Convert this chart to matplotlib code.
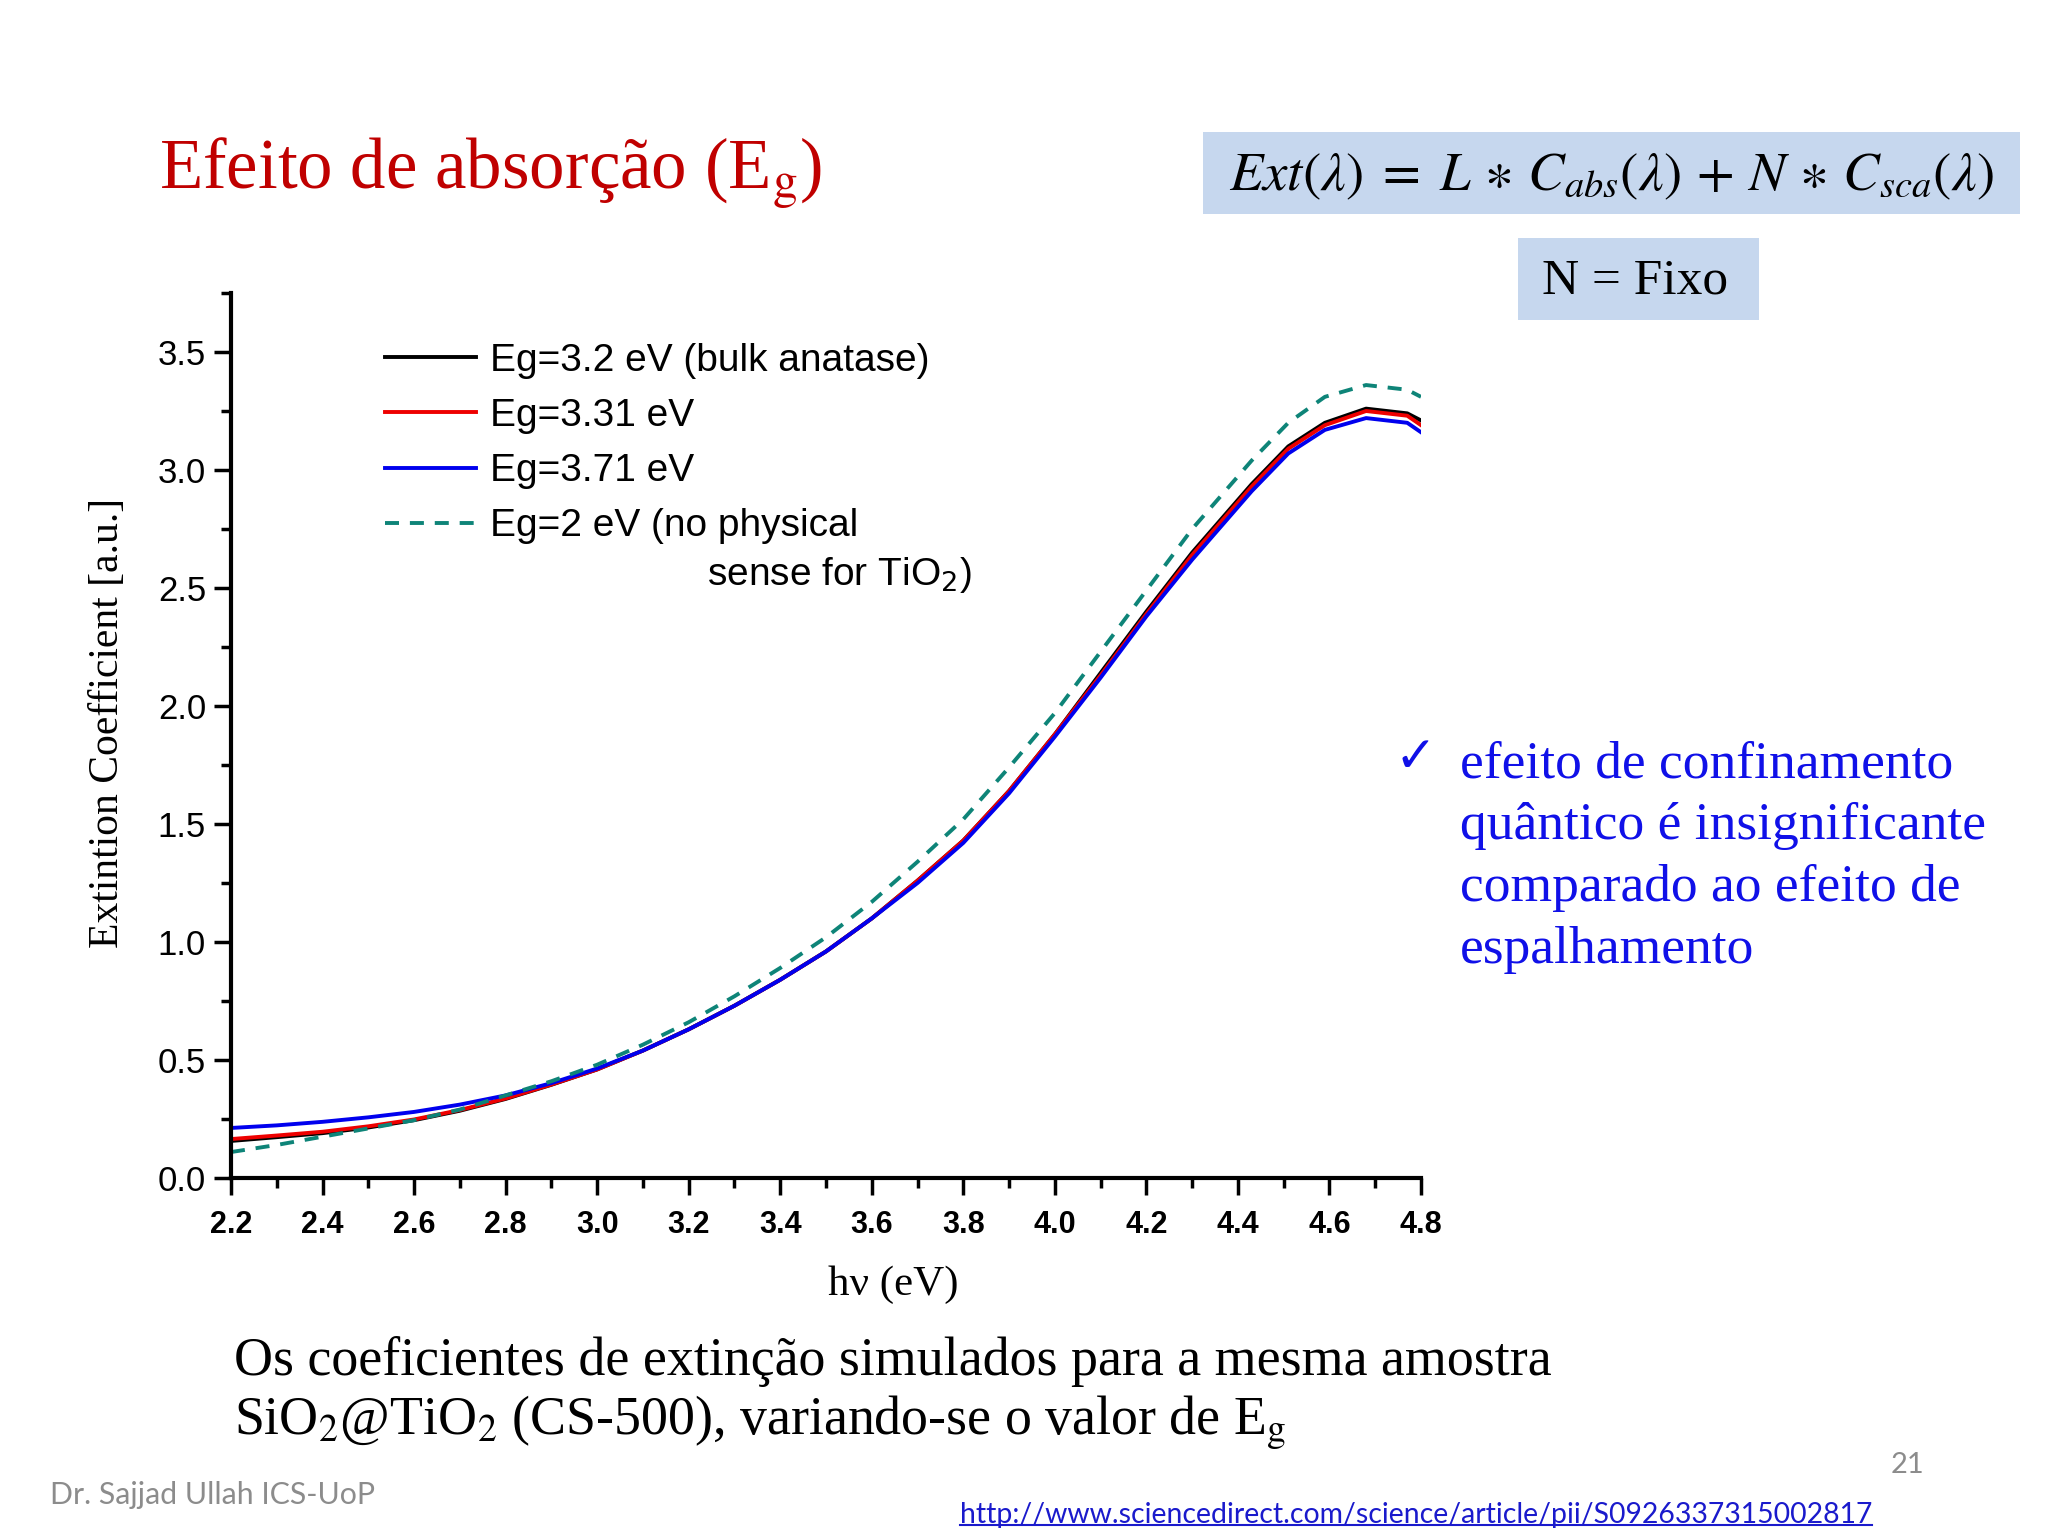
import numpy as np
import matplotlib
matplotlib.use("Agg")
import matplotlib.pyplot as plt
from matplotlib.patches import Rectangle
from matplotlib.lines import Line2D
from matplotlib.ticker import MultipleLocator

# photon energy (eV)
hv = [2.2, 2.3, 2.4, 2.5, 2.6, 2.7, 2.8, 2.9, 3.0, 3.1, 3.2, 3.3, 3.4, 3.5,
      3.6, 3.7, 3.8, 3.9, 4.0, 4.1, 4.2, 4.3, 4.43, 4.51, 4.59, 4.68, 4.77, 4.80]

# extinction coefficient for each band gap
ext_eg320 = [0.157, 0.173, 0.19, 0.214, 0.245, 0.285, 0.335, 0.395, 0.46, 0.54,
             0.63, 0.73, 0.84, 0.96, 1.10, 1.26, 1.43, 1.64, 1.88, 2.14, 2.40,
             2.65, 2.94, 3.10, 3.20, 3.26, 3.24, 3.21]
ext_eg331 = [0.165, 0.18, 0.196, 0.219, 0.248, 0.288, 0.337, 0.396, 0.46, 0.54,
             0.63, 0.73, 0.84, 0.96, 1.10, 1.26, 1.43, 1.64, 1.88, 2.13, 2.39,
             2.64, 2.93, 3.09, 3.19, 3.25, 3.23, 3.19]
ext_eg371 = [0.212, 0.223, 0.238, 0.257, 0.280, 0.311, 0.350, 0.402, 0.464, 0.54,
             0.63, 0.73, 0.84, 0.96, 1.10, 1.25, 1.42, 1.63, 1.87, 2.12, 2.38,
             2.62, 2.91, 3.07, 3.17, 3.22, 3.20, 3.16]
ext_eg200 = [0.11, 0.14, 0.175, 0.21, 0.245, 0.29, 0.35, 0.41, 0.48, 0.565,
             0.66, 0.77, 0.89, 1.02, 1.17, 1.34, 1.52, 1.74, 1.97, 2.23, 2.49,
             2.75, 3.04, 3.20, 3.31, 3.36, 3.34, 3.31]

labels = ["Eg=3.2 eV (bulk anatase)", "Eg=3.31 eV", "Eg=3.71 eV",
          "Eg=2 eV (no physical"]

bullet_lines = ["efeito de confinamento", "quântico é insignificante",
                "comparado ao efeito de", "espalhamento"]

W, H = 2048, 1536
fig = plt.figure(figsize=(20.48, 15.36), dpi=100)
fig.patch.set_facecolor("white")

def fx(px):
    return px / W

def fy(py):
    return 1 - py / H

ax = fig.add_axes([fx(231), fy(1178), (1421 - 231) / W, (1178 - 293) / H])

lw = 2.8
ax.plot(hv, ext_eg320, color="black", lw=lw, label=labels[0])
ax.plot(hv, ext_eg331, color="#EE0000", lw=lw, label=labels[1])
ax.plot(hv, ext_eg371, color="#0000EE", lw=lw, label=labels[2])
ax.plot(hv, ext_eg200, color="#0E8478", lw=lw, ls=(0, (3.6, 2.8)), label=labels[3])

ax.set_xlim(2.2, 4.8)
ax.set_ylim(0, 3.75)
ax.xaxis.set_major_locator(MultipleLocator(0.2))
ax.xaxis.set_minor_locator(MultipleLocator(0.1))
ax.yaxis.set_major_locator(MultipleLocator(0.5))
ax.yaxis.set_minor_locator(MultipleLocator(0.25))
ax.set_xticks(np.arange(2.2, 4.81, 0.2))
ax.set_xticklabels(["%.1f" % v for v in np.arange(2.2, 4.81, 0.2)])

for s in ["top", "right"]:
    ax.spines[s].set_visible(False)
for s in ["left", "bottom"]:
    ax.spines[s].set_linewidth(3)

ax.tick_params(axis="both", which="major", direction="out", length=12, width=2.5)
ax.tick_params(axis="both", which="minor", direction="out", length=7, width=2.5)
ax.tick_params(axis="x", pad=11)
ax.tick_params(axis="y", pad=6)
for t in ax.get_xticklabels():
    t.set_fontfamily("Liberation Sans")
    t.set_fontweight("bold")
    t.set_fontsize(22)
for t in ax.get_yticklabels():
    t.set_fontfamily("Liberation Sans")
    t.set_fontsize(25)

leg = ax.legend(loc="upper left", bbox_to_anchor=(fx(385), fy(343)),
                bbox_transform=fig.transFigure, frameon=False,
                prop={"family": "Liberation Sans", "size": 28},
                handlelength=2.35, handletextpad=0.35, labelspacing=0.49,
                borderpad=0, borderaxespad=0)
fig.text(fx(707), fy(575), "sense for TiO$_2$)", fontsize=28,
         family="Liberation Sans", math_fontfamily="dejavusans",
         ha="left", va="center")

# axis labels
fig.text(fx(108), fy(723), "Extintion Coefficient [a.u.]", rotation=90,
         family="Liberation Serif", fontsize=30, ha="center", va="center")
fig.text(fx(893), fy(1285), "hν (eV)", family="Liberation Serif",
         fontsize=31, ha="center", va="center")

# slide title
fig.text(fx(159), fy(189), r"Efeito de absorção (E$_\mathrm{g}$)",
         family="Liberation Serif", math_fontfamily="stix",
         fontsize=51, color="#C00000", ha="left", va="baseline")

# formula boxes
box_color = "#C6D7EE"
fig.add_artist(Rectangle((fx(1203), fy(214)), (2020 - 1203) / W, (214 - 132) / H,
                         transform=fig.transFigure, facecolor=box_color,
                         edgecolor="none"))
fig.text(fx(1611), fy(175),
         r"$Ext(\lambda)\;=\;L\,\ast\,C_{abs}(\lambda)\,+\,N\,\ast\,C_{sca}(\lambda)$",
         math_fontfamily="stix", fontsize=39.5, ha="center", va="center")
fig.add_artist(Rectangle((fx(1518), fy(320)), (1759 - 1518) / W, (320 - 238) / H,
                         transform=fig.transFigure, facecolor=box_color,
                         edgecolor="none"))
fig.text(fx(1635), fy(281), "N = Fixo", family="Liberation Serif",
         fontsize=37, ha="center", va="center")

# bullet text
blue = "#1010E8"
fig.text(fx(1415), fy(772), "✓", family="DejaVu Sans", fontsize=36,
         fontweight="bold", color=blue, ha="center", va="baseline")
for i, line in enumerate(bullet_lines):
    fig.text(fx(1460), fy(778 + 61.5 * i), line, family="Liberation Serif",
             fontsize=38.5, color=blue, ha="left", va="baseline")

# caption
fig.text(fx(234), fy(1375), "Os coeficientes de extinção simulados para a mesma amostra",
         family="Liberation Serif", fontsize=38.8, ha="left", va="baseline")
fig.text(fx(234), fy(1434),
         r"SiO$_\mathrm{2}$@TiO$_\mathrm{2}$ (CS-500), variando-se o valor de E$_\mathrm{g}$",
         family="Liberation Serif", math_fontfamily="stix", fontsize=38.8,
         ha="left", va="baseline")

# footer
grey = "#8C8C8C"
fig.text(fx(50), fy(1495), "Dr. Sajjad Ullah ICS-UoP", family="Lato",
         fontsize=21.8, color=grey, ha="left", va="center")
fig.text(fx(1907), fy(1465), "21", family="Lato", fontsize=21, color=grey,
         ha="center", va="center")
url = fig.text(fx(960), fy(1515),
               "http://www.sciencedirect.com/science/article/pii/S0926337315002817",
               family="Lato", fontsize=20.4, color="#1A1ACC", ha="left", va="center")

fig.canvas.draw()
bb = url.get_window_extent()
fig.add_artist(Line2D([bb.x0, bb.x1], [bb.y0 + 3, bb.y0 + 3], transform=None,
                      color="#1A1ACC", lw=1.5))

fig.savefig("out.png", dpi=100, facecolor="white")
